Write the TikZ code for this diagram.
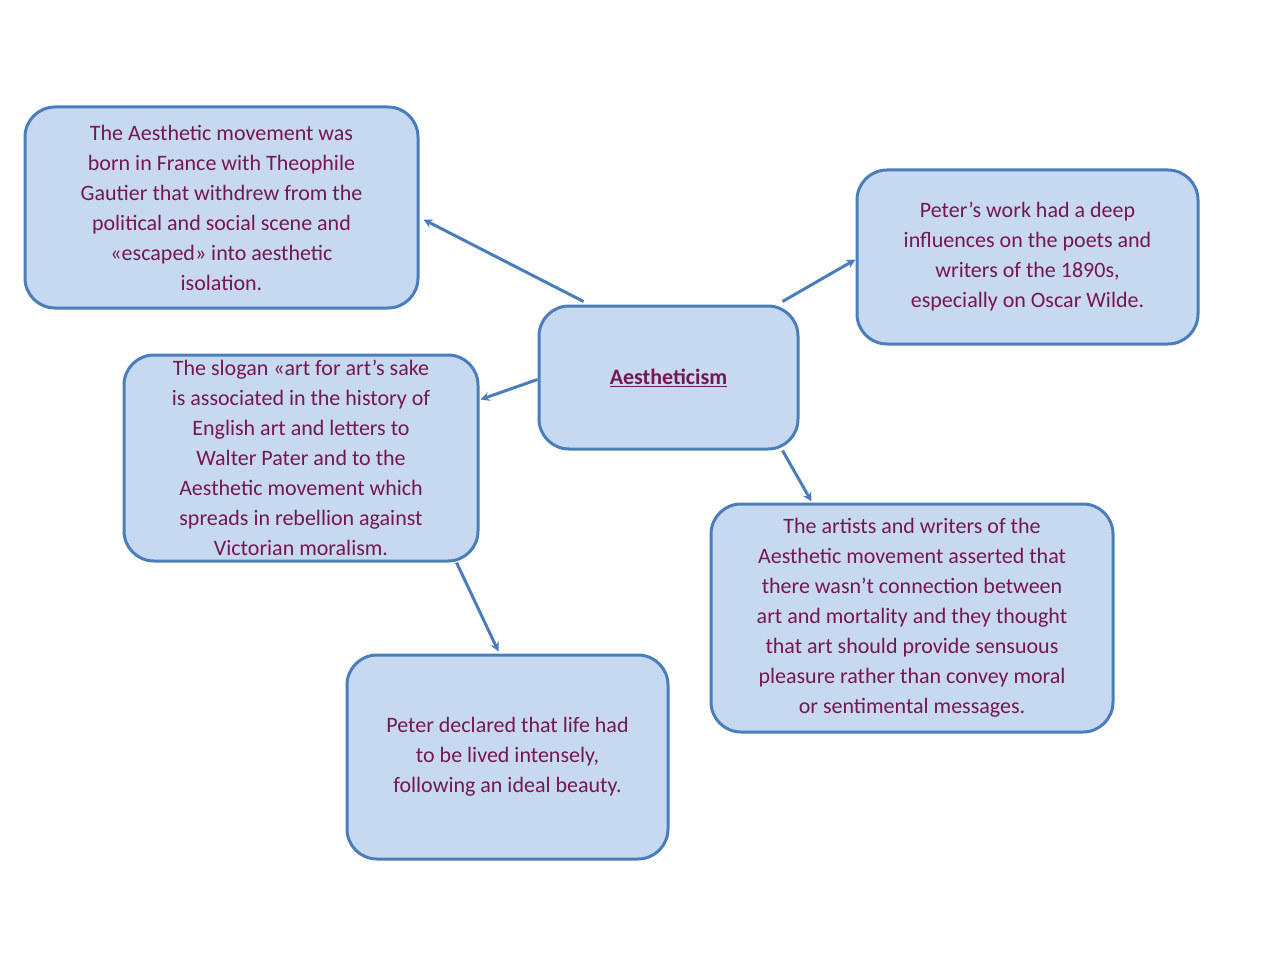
\documentclass[tikz,border=0pt]{standalone}
\usepackage{fontspec}
\setmainfont{Carlito}
\usetikzlibrary{calc,arrows.meta}
\definecolor{bx}{HTML}{C6D9F1}
\definecolor{bd}{HTML}{4A7EBB}
\definecolor{tx}{HTML}{77174F}
\begin{document}
\begin{tikzpicture}[x=1pt,y=-1pt,
 box/.style={draw=bd,fill=bx,line width=3pt,rounded corners=30pt,inner sep=0pt,
   text=tx,align=center,font=\fontsize{22}{30}\selectfont},
 arr/.style={draw=bd,line width=3pt,-{Stealth[length=9pt,width=9pt]}}]
\useasboundingbox (0,0) rectangle (1280,960);
\node[box,minimum width=393pt,minimum height=201pt] (A) at (221.5,207.5) {The Aesthetic movement was\\born in France with Theophile\\Gautier that withdrew from the\\political and social scene and\\«escaped» into aesthetic\\isolation.};
\node[box,minimum width=341pt,minimum height=174pt] (B) at (1027.5,257) {Peter’s work had a deep\\influences on the poets and\\writers of the 1890s,\\especially on Oscar Wilde.};
\node[box,minimum width=259pt,minimum height=143pt] (C) at (668.5,377.5) {\textbf{\underline{Aestheticism}}};
\node[box,minimum width=354pt,minimum height=206pt] (D) at (301,458) {The slogan «art for art’s sake\\is associated in the history of\\English art and letters to\\Walter Pater and to the\\Aesthetic movement which\\spreads in rebellion against\\Victorian moralism.};
\node[box,minimum width=402pt,minimum height=228pt] (E) at (912,618) {The artists and writers of the\\Aesthetic movement asserted that\\there wasn’t connection between\\art and mortality and they thought\\that art should provide sensuous\\pleasure rather than convey moral\\or sentimental messages.};
\node[box,minimum width=321pt,minimum height=204pt] (F) at (507.5,757) {Peter declared that life had\\to be lived intensely,\\following an ideal beauty.};
\draw[arr] ($(C.north west)+(46,-3)$) -- ($(A.south east)+(4,-90)$);
\draw[arr] ($(C.north east)+(-17,-3)$) -- ($(B.south west)+(0,-86)$);
\draw[arr] ($(C.south west)+(0,-71)$) -- ($(D.north east)+(1,46)$);
\draw[arr] ($(C.south east)+(-17,0)$) -- ($(E.north west)+(102,-1)$);
\draw[arr] ($(D.south east)+(-23,0)$) -- ($(F.north west)+(153,-2)$);
\end{tikzpicture}
\end{document}
